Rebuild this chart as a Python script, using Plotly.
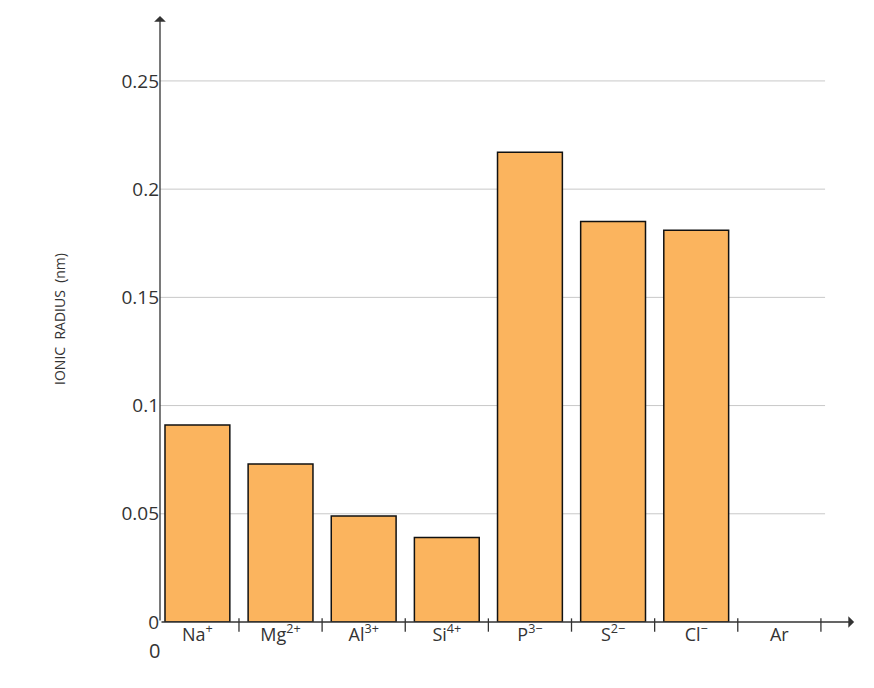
import plotly.graph_objects as go

ions = ["Na<sup>+</sup>", "Mg<sup>2+</sup>", "Al<sup>3+</sup>", "Si<sup>4+</sup>",
        "P<sup>3−</sup>", "S<sup>2−</sup>", "Cl<sup>−</sup>", "Ar"]
radius = [0.091, 0.073, 0.049, 0.039, 0.217, 0.185, 0.181, None]
yticks = [0, 0.05, 0.1, 0.15, 0.2, 0.25]
ytick_text = ["0", "0.05", "0.1", "0.15", "0.2", "0.25"]

xs = list(range(len(ions)))
fig = go.Figure(go.Bar(
    x=xs, y=radius, width=0.78,
    marker=dict(color="#FBB45E", line=dict(color="#111", width=1.5)),
))

shapes = []
for v in yticks[1:]:
    shapes.append(dict(type="line", xref="x", yref="y", x0=-0.45, x1=7.55, y0=v, y1=v,
                       line=dict(color="#c8c8c8", width=1), layer="below"))
for i in range(8):
    shapes.append(dict(type="line", xref="x", yref="paper", x0=i + 0.5, x1=i + 0.5,
                       y0=0.006, y1=-0.016, line=dict(color="#333", width=1.3)))

ann = [
    dict(xref="x", yref="y", x=-0.45, y=0.28, ax=-0.45, ay=0, axref="x", ayref="y",
         showarrow=True, arrowhead=1, arrowsize=1.5, arrowwidth=1.3, arrowcolor="#333", text=""),
    dict(xref="x", yref="y", x=7.9, y=0, ax=-0.45, ay=0, axref="x", ayref="y",
         showarrow=True, arrowhead=1, arrowsize=1.5, arrowwidth=1.3, arrowcolor="#333", text=""),
    dict(xref="paper", yref="paper", x=0.003, y=-0.022, xanchor="right", yanchor="top",
         text="0", showarrow=False, font=dict(size=20, color="#333")),
]

fig.update_layout(
    width=874, height=688,
    margin=dict(l=152, r=27, t=8, b=74),
    plot_bgcolor="white", paper_bgcolor="white",
    font=dict(family="Open Sans", color="#333"),
    showlegend=False,
    shapes=shapes, annotations=ann,
    xaxis=dict(range=[-0.45, 7.91], tickvals=xs, ticktext=ions, showgrid=False,
               zeroline=False, showline=False, ticks="", tickfont=dict(size=18)),
    yaxis=dict(range=[0, 0.28], tickvals=yticks, ticktext=ytick_text, showgrid=False,
               zeroline=False, showline=False, ticks="", tickfont=dict(size=19),
               title=dict(text="IONIC  RADIUS  (nm)", font=dict(size=14), standoff=52)),
)

fig.write_html("out.html")
